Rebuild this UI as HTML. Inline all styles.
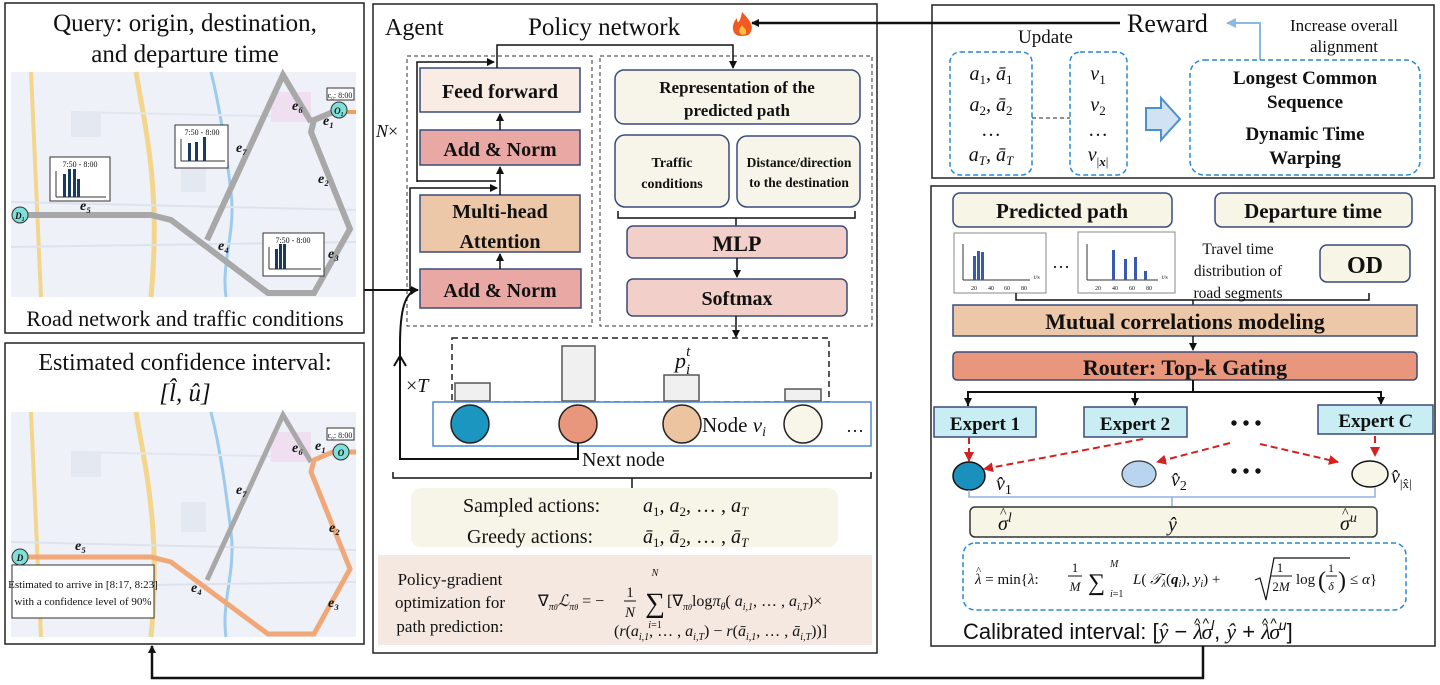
<!DOCTYPE html>
<html><head><meta charset="utf-8"><style>
html,body{margin:0;padding:0;background:#fff;}
svg{display:block;}
text{font-family:"Liberation Serif",serif;fill:#111;}
.b{font-weight:bold;}
.s{font-family:"Liberation Sans",sans-serif;}
.i{font-style:italic;}
</style></head><body>
<svg width="1440" height="685" viewBox="0 0 1440 685" xmlns="http://www.w3.org/2000/svg">
<defs>
<marker id="ar" markerWidth="8" markerHeight="8" refX="7" refY="4" orient="auto" markerUnits="userSpaceOnUse"><path d="M0,0 L8,4 L0,8 z" fill="#111"/></marker>
<marker id="arr" markerWidth="10" markerHeight="10" refX="9" refY="5" orient="auto" markerUnits="userSpaceOnUse"><path d="M0,0 L10,5 L0,10 z" fill="#d42020"/></marker>
<marker id="arb" markerWidth="10" markerHeight="10" refX="9" refY="5" orient="auto" markerUnits="userSpaceOnUse"><path d="M0,0 L10,5 L0,10 z" fill="#8cb8e4"/></marker>
<g id="mapbg">
<rect x="0" y="0" width="345" height="225" fill="#eef1f8"/>
<path d="M20,0 L30,225" stroke="#f4d58c" stroke-width="4" fill="none"/>
<path d="M125,0 C135,60 150,120 140,225" stroke="#f4d58c" stroke-width="5" fill="none"/>
<path d="M200,0 C210,40 215,80 220,120 C225,160 210,190 215,225" stroke="#9ccbee" stroke-width="3" fill="none"/>
<path d="M0,130 L345,138" stroke="#dde2ec" stroke-width="2" fill="none"/>
<path d="M0,175 L345,170" stroke="#dde2ec" stroke-width="2" fill="none"/>
<path d="M60,40 L300,45" stroke="#e2e6ef" stroke-width="2" fill="none"/>
<rect x="260" y="20" width="40" height="30" fill="#f0dff0"/>
<rect x="60" y="40" width="30" height="25" fill="#e4e8f0"/>
<rect x="170" y="90" width="25" height="30" fill="#e4e8f0"/>
</g>
</defs>

<rect x="5" y="3" width="359" height="330" fill="none" stroke="#222" stroke-width="1.5"/>
<rect x="5" y="343" width="359" height="301" fill="none" stroke="#222" stroke-width="1.5"/>
<rect x="373" y="4" width="504" height="649" fill="none" stroke="#222" stroke-width="1.5"/>
<rect x="932" y="5" width="502" height="173" fill="none" stroke="#222" stroke-width="1.5"/>
<rect x="931" y="186" width="504" height="460" fill="none" stroke="#222" stroke-width="1.5"/>

<!-- TOP LEFT -->
<text x="185" y="31" font-size="25" text-anchor="middle">Query: origin, destination,</text>
<text x="185" y="62" font-size="25" text-anchor="middle">and departure time</text>
<g transform="translate(11,72)">
<use href="#mapbg"/>
<path d="M7,143 L140,143 L160,148 L257,221 L303,221 L339,157 L300,60 L303,48 L322,40 L335,40" stroke="#a8a8a8" stroke-width="6" fill="none"/>
<path d="M300,50 L272,3 L196,168" stroke="#a8a8a8" stroke-width="6" fill="none"/>
<path d="M335,40 L345,40" stroke="#f0a050" stroke-width="4"/>
<circle cx="9" cy="143" r="8" fill="#7ee0d8" stroke="#333"/>
<text x="9" y="147" font-size="9" text-anchor="middle" class="i b">D₁</text>
<circle cx="328" cy="38" r="8" fill="#7ee0d8" stroke="#333"/>
<text x="328" y="42" font-size="9" text-anchor="middle" class="i b">O₁</text>
<rect x="316" y="16" width="27" height="12" fill="#fff" stroke="#333"/>
<text x="329" y="26" font-size="8" text-anchor="middle">c₀: 8:00</text>
<g font-size="14" class="i b">
<text x="312" y="53">e₁</text><text x="307" y="111">e₂</text><text x="317" y="186">e₃</text>
<text x="207" y="178">e₄</text><text x="69" y="138">e₅</text><text x="281" y="38">e₆</text><text x="225" y="80">e₇</text>
</g>
</g>
<g font-size="8">
<g transform="translate(50,157)"><rect width="60" height="44" fill="#fff" stroke="#333"/><text x="30" y="10" text-anchor="middle">7:50 - 8:00</text><path d="M6,40 L56,40 M6,40 L6,14" stroke="#333"/><rect x="13" y="17" width="3" height="23" fill="#1a3a60"/><rect x="18" y="12" width="3" height="28" fill="#1a3a60"/><rect x="23" y="12" width="3" height="28" fill="#1a3a60"/><rect x="27" y="22" width="3" height="18" fill="#1a3a60"/></g>
<g transform="translate(175,125)"><rect width="53" height="43" fill="#fff" stroke="#333"/><text x="27" y="10" text-anchor="middle">7:50 - 8:00</text><path d="M6,36 L50,36 M6,36 L6,14" stroke="#333"/><rect x="13" y="18" width="3" height="18" fill="#1a3a60"/><rect x="20" y="17" width="3" height="19" fill="#1a3a60"/><rect x="28" y="12" width="3" height="24" fill="#1a3a60"/></g>
<g transform="translate(263,233)"><rect width="61" height="43" fill="#fff" stroke="#333"/><text x="30" y="10" text-anchor="middle">7:50 - 8:00</text><path d="M6,36 L58,36 M6,36 L6,14" stroke="#333"/><rect x="12" y="16" width="3" height="20" fill="#1a3a60"/><rect x="16" y="11" width="3" height="25" fill="#1a3a60"/><rect x="20" y="11" width="3" height="25" fill="#1a3a60"/></g>
</g>
<text x="185" y="326" font-size="22" text-anchor="middle">Road network and traffic conditions</text>

<!-- BOTTOM LEFT -->
<text x="185" y="370" font-size="24" text-anchor="middle">Estimated confidence interval:</text>
<text x="185" y="401" font-size="25" text-anchor="middle" class="i">[<tspan>l̂</tspan>, <tspan>û</tspan>]</text>
<g transform="translate(11,412)">
<use href="#mapbg"/>
<path d="M300,50 L272,3 L196,168" stroke="#a8a8a8" stroke-width="5" fill="none"/>
<path d="M7,145 L140,145 L160,150 L257,222 L303,222 L339,157 L300,60 L303,48 L322,40 L345,40" stroke="#f0a878" stroke-width="5" fill="none"/>
<circle cx="9" cy="145" r="8" fill="#7ee0d8" stroke="#333"/>
<text x="9" y="149" font-size="9" text-anchor="middle" class="i b">D</text>
<circle cx="330" cy="40" r="8" fill="#7ee0d8" stroke="#333"/>
<text x="330" y="44" font-size="9" text-anchor="middle" class="i b">O</text>
<rect x="316" y="16" width="27" height="12" fill="#fff" stroke="#333"/>
<text x="329" y="26" font-size="8" text-anchor="middle">c₀: 8:00</text>
<g font-size="14" class="i b">
<text x="304" y="38">e₁</text><text x="318" y="120">e₂</text><text x="317" y="195">e₃</text>
<text x="180" y="180">e₄</text><text x="64" y="138">e₅</text><text x="281" y="40">e₆</text><text x="225" y="82">e₇</text>
</g>
<rect x="1" y="153" width="142" height="53" fill="#fff" stroke="#333"/>
<text x="72" y="176" font-size="11" text-anchor="middle">Estimated to arrive in [8:17, 8:23]</text>
<text x="72" y="193" font-size="11" text-anchor="middle">with a confidence level of 90%</text>
</g>

<path d="M1203,646 L1203,678 L152,678 L152,646" stroke="#111" stroke-width="2.5" fill="none" marker-end="url(#ar)"/>
<path d="M364,290 L418,290" stroke="#111" stroke-width="2" fill="none" marker-end="url(#ar)"/>
<path d="M1120,23 L752,23" stroke="#111" stroke-width="2.5" fill="none" marker-end="url(#ar)"/>

<!-- MIDDLE -->
<text x="385" y="35" font-size="24">Agent</text>
<text x="528" y="35" font-size="25">Policy network</text>
<path d="M741,36 C731,36 731,24 737,18 C737,25 740,23 742,12 C749,19 754,26 751,31 C750,35 747,36 741,36 z" fill="#f05a20"/>
<path d="M742,35 C738,33 739,28 742,25 C743,28 747,28 746,34 z" fill="#ffc040"/>
<rect x="407" y="56" width="185" height="270" fill="none" stroke="#333" stroke-dasharray="4,3"/>
<rect x="600" y="56" width="272" height="270" fill="none" stroke="#333" stroke-dasharray="4,3"/>
<rect x="420" y="68" width="160" height="44" fill="#f8ece4" stroke="#3a4a7a" stroke-width="1.5"/>
<text x="500" y="98" font-size="20" class="b" text-anchor="middle">Feed forward</text>
<rect x="420" y="130" width="160" height="35" fill="#eaa8a4" stroke="#3a4a7a" stroke-width="1.5"/>
<text x="500" y="156" font-size="20" class="b" text-anchor="middle">Add &amp; Norm</text>
<rect x="420" y="195" width="160" height="57" fill="#ecc8a8" stroke="#3a4a7a" stroke-width="1.5"/>
<text x="500" y="218" font-size="20" class="b" text-anchor="middle">Multi-head</text>
<text x="500" y="248" font-size="20" class="b" text-anchor="middle">Attention</text>
<rect x="420" y="269" width="161" height="39" fill="#eaa8a4" stroke="#3a4a7a" stroke-width="1.5"/>
<text x="500" y="297" font-size="20" class="b" text-anchor="middle">Add &amp; Norm</text>
<g stroke="#111" stroke-width="1.5" fill="none">
<path d="M500,269 L500,254" marker-end="url(#ar)"/>
<path d="M500,195 L500,167" marker-end="url(#ar)"/>
<path d="M500,130 L500,114" marker-end="url(#ar)"/>
<path d="M497,68 L497,45 L733,45 L733,68" marker-end="url(#ar)"/>
<path d="M410,290 L410,188 L497,188" marker-end="url(#ar)"/>
<path d="M417,182 L417,62 L494,62" marker-end="url(#ar)"/>
<path d="M417,181 L496,181"/>
</g>
<text x="376" y="137" font-size="18" class="i">N<tspan font-style="normal">×</tspan></text>
<rect x="615" y="70" width="245" height="54" rx="9" fill="#f7f5e9" stroke="#3a4a7a" stroke-width="1.5"/>
<text x="737" y="93" font-size="17" class="b" text-anchor="middle">Representation of the</text>
<text x="737" y="116" font-size="17" class="b" text-anchor="middle">predicted path</text>
<rect x="615" y="135" width="114" height="72" rx="10" fill="#f7f5e9" stroke="#3a4a7a" stroke-width="1.5"/>
<text x="672" y="167" font-size="14" class="b" text-anchor="middle">Traffic</text>
<text x="672" y="188" font-size="14" class="b" text-anchor="middle">conditions</text>
<rect x="737" y="136" width="123" height="71" rx="10" fill="#f7f5e9" stroke="#3a4a7a" stroke-width="1.5"/>
<text x="799" y="167" font-size="13.5" class="b" text-anchor="middle">Distance/direction</text>
<text x="799" y="187" font-size="13.5" class="b" text-anchor="middle">to the destination</text>
<path d="M618,211 L618,218 L855,218 L855,211 M736,218 L736,226" stroke="#111" stroke-width="1.5" fill="none"/>
<rect x="627" y="226" width="220" height="32" rx="6" fill="#f2cfc8" stroke="#3a4a7a" stroke-width="1.5"/>
<text x="737" y="251" font-size="22" class="b" text-anchor="middle">MLP</text>
<path d="M737,258 L737,277" stroke="#111" stroke-width="1.5" marker-end="url(#ar)"/>
<rect x="627" y="279" width="220" height="37" rx="6" fill="#f2cfc8" stroke="#3a4a7a" stroke-width="1.5"/>
<text x="737" y="305" font-size="20" class="b" text-anchor="middle">Softmax</text>
<path d="M736,316 L736,337" stroke="#111" stroke-width="1.5" marker-end="url(#ar)"/>
<rect x="452" y="338" width="377" height="64" fill="none" stroke="#222" stroke-width="1.5" stroke-dasharray="6,4"/>
<g fill="#f0f0f0" stroke="#555" stroke-width="1.5">
<rect x="455" y="383" width="35" height="18"/>
<rect x="562" y="346" width="33" height="55"/>
<rect x="664" y="375" width="35" height="26"/>
<rect x="785" y="389" width="36" height="12"/>
</g>
<text x="675" y="368" font-size="22" class="i">p<tspan font-size="15" dy="6">i</tspan><tspan font-size="15" dx="-4" dy="-18">t</tspan></text>
<rect x="433" y="402" width="438" height="44" fill="#fff" stroke="#4a8ad4" stroke-width="1.5"/>
<g stroke="#222" stroke-width="1.5">
<circle cx="470" cy="424" r="19" fill="#1a96c0"/>
<circle cx="578" cy="424" r="19" fill="#e8967c"/>
<circle cx="682" cy="424" r="19" fill="#ecc4a0"/>
<circle cx="803" cy="424" r="19" fill="#f8f6e8"/>
</g>
<text x="702" y="432" font-size="21">Node <tspan class="i">v</tspan><tspan class="i" font-size="14" dy="4">i</tspan></text>
<text x="846" y="432" font-size="18">…</text>
<path d="M578,443 L578,459 L400,459 L400,345 C400,310 405,292 417,290" stroke="#111" stroke-width="2" fill="none" marker-end="url(#ar)"/>
<path d="M394,366 L400,356 L406,366" stroke="#111" stroke-width="2" fill="none"/>
<text x="406" y="392" font-size="20">×<tspan class="i">T</tspan></text>
<text x="582" y="466" font-size="20">Next node</text>
<path d="M393,472 L393,478 L871,478 L871,472 M632,478 L632,488" stroke="#111" stroke-width="1.5" fill="none"/>
<rect x="411" y="488" width="427" height="59" rx="10" fill="#f6f5e8"/>
<text x="463" y="512" font-size="20">Sampled actions:</text>
<text x="643" y="512" font-size="20" class="i">a<tspan font-size="13" dy="4" font-style="normal">1</tspan><tspan dy="-4">, a</tspan><tspan font-size="13" dy="4" font-style="normal">2</tspan><tspan dy="-4" font-style="normal">, … , </tspan><tspan>a</tspan><tspan font-size="13" dy="4">T</tspan></text>
<text x="467" y="543" font-size="20">Greedy actions:</text>
<text x="643" y="543" font-size="20" class="i">ā<tspan font-size="13" dy="4" font-style="normal">1</tspan><tspan dy="-4">, ā</tspan><tspan font-size="13" dy="4" font-style="normal">2</tspan><tspan dy="-4" font-style="normal">, … , </tspan><tspan>ā</tspan><tspan font-size="13" dy="4">T</tspan></text>
<rect x="378" y="555" width="494" height="90" fill="#f5e8e0"/>
<text x="450" y="585" font-size="17" text-anchor="middle">Policy-gradient</text>
<text x="450" y="608" font-size="17" text-anchor="middle">optimization for</text>
<text x="450" y="632" font-size="17" text-anchor="middle">path prediction:</text>
<text x="538" y="606" font-size="16">∇<tspan font-size="10" dy="4" class="i">π</tspan><tspan font-size="8" class="i">θ</tspan><tspan dy="-4" class="i">ℒ</tspan><tspan font-size="10" dy="4" class="i">π</tspan><tspan font-size="8" class="i">θ</tspan><tspan dy="-4"> = −</tspan></text>
<text x="630" y="597" font-size="15" text-anchor="middle">1</text>
<path d="M624,601 L636,601" stroke="#111"/>
<text x="630" y="617" font-size="15" text-anchor="middle" class="i">N</text>
<text x="655" y="576" font-size="10" text-anchor="middle" class="i">N</text>
<text x="655" y="612" font-size="28" text-anchor="middle">∑</text>
<text x="655" y="628" font-size="10" text-anchor="middle" class="i">i<tspan font-style="normal">=1</tspan></text>
<text x="667" y="606" font-size="16">[∇<tspan font-size="10" dy="4" class="i">π</tspan><tspan font-size="8" class="i">θ</tspan><tspan dy="-4">log</tspan><tspan class="i">π</tspan><tspan font-size="10" dy="4" class="i">θ</tspan><tspan dy="-4">( </tspan><tspan class="i">a</tspan><tspan font-size="10" dy="4" class="i">i,1</tspan><tspan dy="-4">, … , </tspan><tspan class="i">a</tspan><tspan font-size="10" dy="4" class="i">i,T</tspan><tspan dy="-4">)×</tspan></text>
<text x="614" y="636" font-size="16">(<tspan class="i">r</tspan>(<tspan class="i">a</tspan><tspan font-size="10" dy="4" class="i">i,1</tspan><tspan dy="-4">, … , </tspan><tspan class="i">a</tspan><tspan font-size="10" dy="4" class="i">i,T</tspan><tspan dy="-4">) − </tspan><tspan class="i">r</tspan>(<tspan class="i">ā</tspan><tspan font-size="10" dy="4" class="i">i,1</tspan><tspan dy="-4">, … , </tspan><tspan class="i">ā</tspan><tspan font-size="10" dy="4" class="i">i,T</tspan><tspan dy="-4">))]</tspan></text>

<!-- TOP RIGHT -->
<text x="1127" y="32" font-size="26">Reward</text>
<path d="M1260,60 L1260,23 L1227,23" stroke="#8cb8e4" stroke-width="2" fill="none" marker-end="url(#arb)"/>
<text x="1344" y="31" font-size="17" text-anchor="middle">Increase overall</text>
<text x="1344" y="52" font-size="17" text-anchor="middle">alignment</text>
<text x="1018" y="43" font-size="19">Update</text>
<g fill="none" stroke="#2a88d0" stroke-width="1.5" stroke-dasharray="5,3">
<rect x="950" y="52" width="82" height="123" rx="10"/>
<rect x="1070" y="52" width="57" height="123" rx="10"/>
<rect x="1190" y="60" width="230" height="115" rx="14"/>
</g>
<path d="M1032,118 L1070,118" stroke="#222" stroke-dasharray="4,3"/>
<g font-size="20" class="i">
<text x="991" y="80" text-anchor="middle">a<tspan font-size="13" font-style="normal" dy="4">1</tspan><tspan dy="-4">, ā</tspan><tspan font-size="13" font-style="normal" dy="4">1</tspan></text>
<text x="991" y="111" text-anchor="middle">a<tspan font-size="13" font-style="normal" dy="4">2</tspan><tspan dy="-4">, ā</tspan><tspan font-size="13" font-style="normal" dy="4">2</tspan></text>
<text x="991" y="136" text-anchor="middle" font-style="normal">…</text>
<text x="991" y="161" text-anchor="middle">a<tspan font-size="13" dy="4">T</tspan><tspan dy="-4">, ā</tspan><tspan font-size="13" dy="4">T</tspan></text>
<text x="1098" y="80" text-anchor="middle">v<tspan font-size="13" font-style="normal" dy="4">1</tspan></text>
<text x="1098" y="111" text-anchor="middle">v<tspan font-size="13" font-style="normal" dy="4">2</tspan></text>
<text x="1098" y="136" text-anchor="middle" font-style="normal">…</text>
<text x="1098" y="161" text-anchor="middle">v<tspan font-size="13" font-style="normal" dy="5">|</tspan><tspan font-size="13" class="b">x</tspan><tspan font-size="13" font-style="normal">|</tspan></text>
</g>
<path d="M1146,108 L1161,108 L1161,98 L1180,119 L1161,140 L1161,130 L1146,130 z" fill="#d0e2f4" stroke="#4a90d0" stroke-width="2"/>
<g font-size="19" class="b" text-anchor="middle">
<text x="1305" y="84">Longest Common</text>
<text x="1305" y="108">Sequence</text>
<text x="1305" y="140">Dynamic Time</text>
<text x="1305" y="164">Warping</text>
</g>

<!-- BOTTOM RIGHT -->
<rect x="953" y="193" width="219" height="34" rx="7" fill="#f7f5e6" stroke="#3a4a7a" stroke-width="1.5"/>
<text x="1062" y="218" font-size="21" class="b" text-anchor="middle">Predicted path</text>
<rect x="1215" y="193" width="197" height="34" rx="7" fill="#f7f5e6" stroke="#3a4a7a" stroke-width="1.5"/>
<text x="1313" y="218" font-size="21" class="b" text-anchor="middle">Departure time</text>
<g font-size="6" class="s">
<g transform="translate(954,233)"><rect width="92" height="60" fill="#fff" stroke="#888"/><path d="M9,47 L76,47 M9,47 L9,11" stroke="#333"/><rect x="19" y="23" width="3" height="24" fill="#3a5ab0"/><rect x="23" y="18" width="3" height="29" fill="#3a5ab0"/><rect x="27" y="19" width="3" height="28" fill="#3a5ab0"/><text x="17" y="57">20</text><text x="34" y="57">40</text><text x="50" y="57">60</text><text x="67" y="57">80</text><text x="80" y="46">t/s</text></g>
<g transform="translate(1078,232)"><rect width="97" height="61" fill="#fff" stroke="#888"/><path d="M9,48 L80,48 M9,48 L9,12" stroke="#333"/><rect x="34" y="18" width="3" height="30" fill="#3a5ab0"/><rect x="46" y="27" width="3" height="21" fill="#3a5ab0"/><rect x="56" y="25" width="3" height="23" fill="#3a5ab0"/><rect x="66" y="39" width="3" height="9" fill="#3a5ab0"/><text x="17" y="58">20</text><text x="34" y="58">40</text><text x="51" y="58">60</text><text x="68" y="58">80</text><text x="84" y="47">t/s</text></g>
</g>
<text x="1061" y="268" font-size="18" text-anchor="middle">…</text>
<g font-size="15.5" class="s" text-anchor="middle">
<text x="1238" y="254">Travel time</text>
<text x="1238" y="276">distribution of</text>
<text x="1238" y="298">road segments</text>
</g>
<rect x="1320" y="245" width="90" height="37" rx="7" fill="#f7f5e6" stroke="#3a4a7a" stroke-width="1.5"/>
<text x="1365" y="273" font-size="24" class="b" text-anchor="middle">OD</text>
<path d="M1016,293 L1016,300 L1369,300 L1369,293 M1193,300 L1193,305" stroke="#111" stroke-width="1.5" fill="none"/>
<rect x="953" y="305" width="464" height="31" fill="#ecc8a8" stroke="#3a4a7a" stroke-width="1.5"/>
<text x="1185" y="329" font-size="22" class="b" text-anchor="middle">Mutual correlations modeling</text>
<path d="M1193,336 L1193,350" stroke="#111" stroke-width="1.5" marker-end="url(#ar)"/>
<rect x="953" y="352" width="464" height="28" rx="4" fill="#e8967c" stroke="#3a4a7a" stroke-width="1.5"/>
<text x="1185" y="375" font-size="22" class="b" text-anchor="middle">Router: Top-k Gating</text>
<g stroke="#111" stroke-width="2" fill="none">
<path d="M1193,380 L1193,392 M968,406 L968,392 L1381,392 L1381,404"/>
<path d="M968,392 L968,405" marker-end="url(#ar)"/>
<path d="M1135,392 L1135,405" marker-end="url(#ar)"/>
<path d="M1381,392 L1381,404" marker-end="url(#ar)"/>
</g>
<rect x="934" y="407" width="102" height="30" fill="#c8eef4" stroke="#3a4a7a" stroke-width="1.5"/>
<text x="985" y="430" font-size="19" class="b" text-anchor="middle">Expert 1</text>
<rect x="1084" y="407" width="103" height="30" fill="#c8eef4" stroke="#3a4a7a" stroke-width="1.5"/>
<text x="1135" y="430" font-size="19" class="b" text-anchor="middle">Expert 2</text>
<rect x="1318" y="405" width="115" height="29" fill="#c8eef4" stroke="#3a4a7a" stroke-width="1.5"/>
<text x="1375" y="427" font-size="19" class="b" text-anchor="middle">Expert <tspan class="i">C</tspan></text>
<text x="1246" y="430" font-size="20" class="b" text-anchor="middle">• • •</text>
<g stroke="#d42020" stroke-width="2" stroke-dasharray="7,4" fill="none">
<path d="M969,437 L969,461" marker-end="url(#arr)"/>
<path d="M1143,439 L984,469" marker-end="url(#arr)"/>
<path d="M1230,443 L1157,462" marker-end="url(#arr)"/>
<path d="M1260,444 L1338,462" marker-end="url(#arr)"/>
<path d="M1375,436 L1375,456" marker-end="url(#arr)"/>
</g>
<ellipse cx="969" cy="476" rx="16" ry="14" fill="#1a90bc" stroke="#111" stroke-width="1.5"/>
<ellipse cx="1139" cy="474" rx="17" ry="13" fill="#b8d4ee" stroke="#333" stroke-width="1.2"/>
<ellipse cx="1370" cy="474" rx="18" ry="13" fill="#f8f6e8" stroke="#111" stroke-width="1.5"/>
<text x="1246" y="478" font-size="20" class="b" text-anchor="middle">• • •</text>
<g font-size="20" class="i">
<text x="996" y="490">v̂<tspan font-size="14" font-style="normal" dy="4">1</tspan></text>
<text x="1171" y="486">v̂<tspan font-size="14" font-style="normal" dy="4">2</tspan></text>
<text x="1391" y="483">v̂<tspan font-size="13" font-style="normal" dy="5">|x̂|</tspan></text>
</g>
<path d="M969,490 L969,497 L1375,497 L1375,487 M1172,497 L1172,506" stroke="#8fb0e0" stroke-width="1.5" fill="none"/>
<rect x="970" y="507" width="407" height="30" rx="5" fill="#f7f5e6" stroke="#333" stroke-width="1.5"/>
<g font-size="20" class="i">
<text x="998" y="530">σ<tspan font-size="14" dy="-8">l</tspan></text>
<text x="1000" y="517" font-size="14" font-style="normal">^</text>
<text x="1168" y="531">ŷ</text>
<text x="1340" y="530">σ<tspan font-size="14" dy="-8">u</tspan></text>
<text x="1342" y="517" font-size="14" font-style="normal">^</text>
</g>
<rect x="963" y="543" width="443" height="67" rx="12" fill="none" stroke="#2a88d0" stroke-width="1.5" stroke-dasharray="5,3"/>
<text x="975" y="584" font-size="15"><tspan class="i">λ</tspan> = min{<tspan class="i">λ</tspan>: </text>
<text x="976" y="574" font-size="11">^</text>
<text x="1075" y="572" font-size="13" text-anchor="middle">1</text>
<path d="M1068,576 L1082,576" stroke="#111"/>
<text x="1075" y="591" font-size="13" text-anchor="middle" class="i">M</text>
<text x="1088" y="590" font-size="24">∑</text>
<text x="1110" y="567" font-size="10" class="i">M</text>
<text x="1110" y="597" font-size="10" class="i">i<tspan font-style="normal">=1</tspan></text>
<text x="1133" y="584" font-size="15"><tspan class="i">L</tspan>( <tspan class="i">𝒯</tspan><tspan font-size="10" dy="3" class="i">λ</tspan><tspan dy="-3">(</tspan><tspan class="b i">q</tspan><tspan font-size="10" dy="3" class="i">i</tspan><tspan dy="-3">), </tspan><tspan class="i">y</tspan><tspan font-size="10" dy="3" class="i">i</tspan><tspan dy="-3">) +</tspan></text>
<path d="M1255,580 L1260,578 L1266,600 L1274,558 L1350,558" stroke="#111" stroke-width="1.2" fill="none"/>
<text x="1280" y="572" font-size="13" text-anchor="middle">1</text>
<path d="M1270,576 L1292,576" stroke="#111"/>
<text x="1281" y="591" font-size="13" text-anchor="middle">2<tspan class="i">M</tspan></text>
<text x="1296" y="584" font-size="15">log</text>
<text x="1318" y="588" font-size="24">(</text>
<text x="1331" y="572" font-size="12" text-anchor="middle">1</text>
<path d="M1326,576 L1337,576" stroke="#111"/>
<text x="1331" y="590" font-size="12" text-anchor="middle" class="i">δ</text>
<text x="1338" y="588" font-size="24">)</text>
<text x="1350" y="584" font-size="15">≤ <tspan class="i">α</tspan>}</text>
<text x="963" y="639" font-size="22" class="s">Calibrated interval: [<tspan class="i" font-family="Liberation Serif">ŷ</tspan> − <tspan class="i" font-family="Liberation Serif">λ</tspan><tspan font-size="14" dx="-9" dy="-11">^</tspan><tspan dx="1" dy="11" class="i" font-family="Liberation Serif">σ</tspan><tspan font-size="14" dx="-10" dy="-11">^</tspan><tspan font-size="14" dx="2" dy="2" class="i">l</tspan><tspan dy="9">, </tspan><tspan class="i" font-family="Liberation Serif">ŷ</tspan> + <tspan class="i" font-family="Liberation Serif">λ</tspan><tspan font-size="14" dx="-9" dy="-11">^</tspan><tspan dx="1" dy="11" class="i" font-family="Liberation Serif">σ</tspan><tspan font-size="14" dx="-10" dy="-11">^</tspan><tspan font-size="14" dx="2" dy="2" class="i">u</tspan><tspan dy="9">]</tspan></text>
</svg>
</body></html>
